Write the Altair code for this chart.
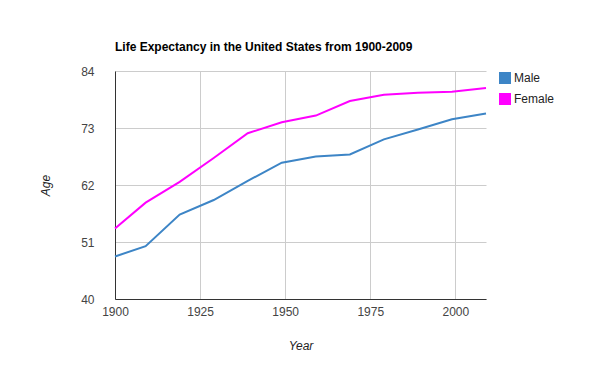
import altair as alt
import pandas as pd

years = [1900, 1909, 1919, 1929, 1939, 1949, 1959, 1969, 1979, 1989, 1999, 2009]
male = [48.2, 50.2, 56.3, 59.1, 62.8, 66.3, 67.5, 67.9, 70.8, 72.7, 74.7, 75.8]
female = [53.6, 58.6, 62.6, 67.2, 72.0, 74.1, 75.4, 78.2, 79.4, 79.8, 80.0, 80.7]
series = ["Male", "Female"]
colors = ["#3d85c6", "#ff00ff"]
x_ticks = [1900, 1925, 1950, 1975, 2000]
y_ticks = [40, 51, 62, 73, 84]

rows = []
for y, m, f in zip(years, male, female):
    rows.append({"Year": y, "Age": m, "Series": "Male"})
    rows.append({"Year": y, "Age": f, "Series": "Female"})
df = pd.DataFrame(rows)

FONT = "Arial, Liberation Sans, sans-serif"

chart = (
    alt.Chart(df)
    .mark_line(strokeWidth=2)
    .encode(
        x=alt.X(
            "Year:Q",
            scale=alt.Scale(domain=[1900, 2009], nice=False, zero=False),
            axis=alt.Axis(
                values=x_ticks,
                format="d",
                title="Year",
                titleFontStyle="italic",
                titleFontWeight="normal",
                titleFontSize=12,
                titleColor="#222222",
                titleBaseline="middle",
                titleY=46,
                labelFontSize=12,
                labelColor="#444444",
                labelPadding=7,
                labelFlush=False,
                ticks=False,
                domainColor="#333333",
                gridColor="#cccccc",
            ),
        ),
        y=alt.Y(
            "Age:Q",
            scale=alt.Scale(domain=[40, 84], nice=False, zero=False),
            axis=alt.Axis(
                values=y_ticks,
                title="Age",
                titleFontStyle="italic",
                titleFontWeight="normal",
                titleFontSize=12,
                titleColor="#222222",
                titleBaseline="middle",
                titleX=-70,
                titleY=114,
                labelFontSize=12,
                labelColor="#444444",
                labelPadding=21,
                labelFlush=False,
                ticks=False,
                domainColor="#333333",
                gridColor="#cccccc",
            ),
        ),
        color=alt.Color(
            "Series:N",
            scale=alt.Scale(domain=series, range=colors),
            legend=alt.Legend(
                title=None,
                orient="none",
                legendX=384,
                legendY=1,
                symbolType="square",
                symbolSize=36,
                symbolStrokeWidth=6,
                symbolOpacity=1,
                labelFontSize=12,
                labelColor="#222222",
                rowPadding=-11,
                labelOffset=3,
            ),
        ),
    )
    .properties(
        width=371,
        height=228,
        title=alt.TitleParams(
            "Life Expectancy in the United States from 1900-2009",
            anchor="start",
            frame="group",
            fontSize=12,
            fontWeight="bold",
            color="#000000",
            offset=11,
        ),
        autosize=alt.AutoSizeParams(type="none"),
        padding={"left": 107, "top": 63, "right": 100, "bottom": 60},
    )
    .configure(font=FONT)
    .configure_view(stroke=None)
)

chart.save("out.html", embed_options={"renderer": "svg", "actions": False})
